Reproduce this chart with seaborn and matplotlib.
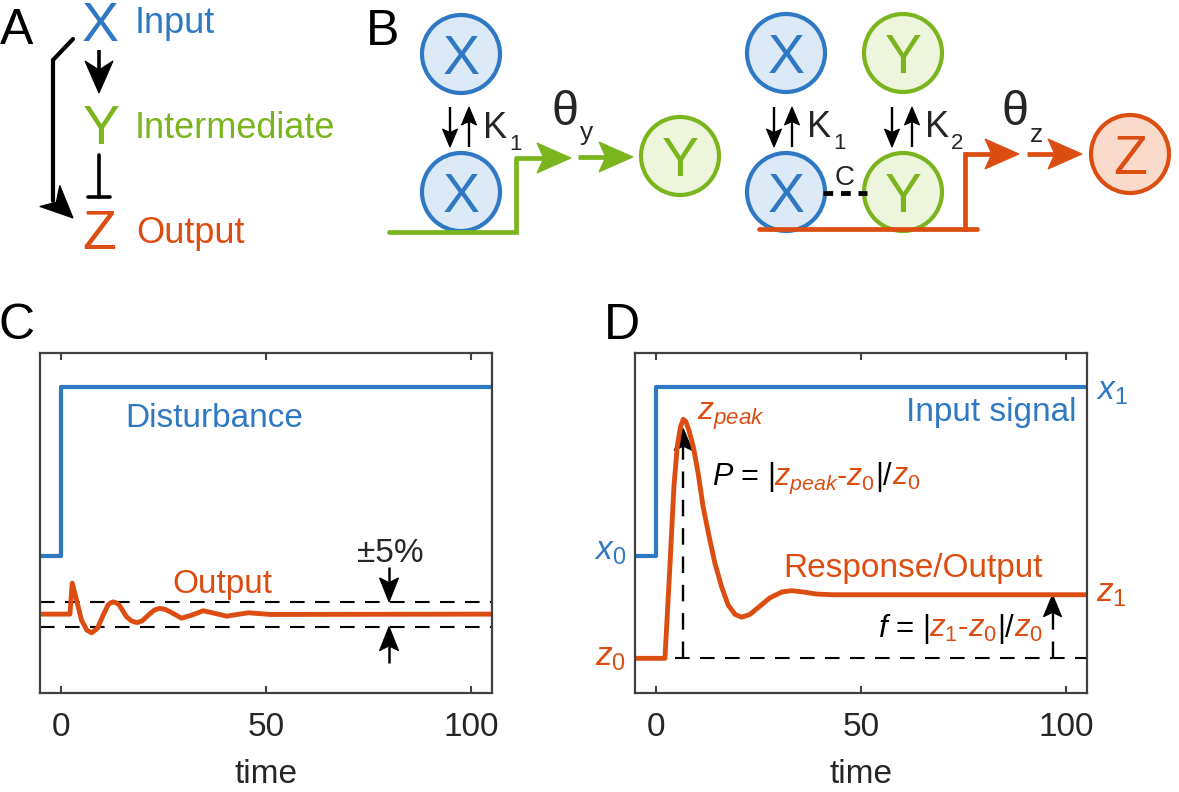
import numpy as np
import matplotlib
matplotlib.use("Agg")
import matplotlib.pyplot as plt
from matplotlib.patches import Circle, Polygon
from matplotlib.transforms import offset_copy
import seaborn as sns

# ---- data (time, normalised level) ----
input_t = [-5.1, 0.0, 0.0, 105.1]
input_x = [0.403, 0.403, 0.90, 0.90]

# panel C: perfectly adapting output
outC_t = [-5.1, 2.2, 2.76, 3.8, 5.0, 6.3, 7.5, 8.9, 10.3, 11.5, 12.1, 12.8, 13.5, 14.2, 16.0,
          17.2, 18.5, 19.8, 21.3, 22.8, 24.1, 25.4, 26.6, 29.4, 31.9, 34.7, 37.6, 40.4, 45.7,
          51.0, 105.1]
outC_z = [0.232, 0.232, 0.323, 0.274, 0.215, 0.185, 0.177, 0.190, 0.229, 0.259, 0.265, 0.268,
          0.265, 0.259, 0.224, 0.212, 0.207, 0.212, 0.229, 0.244, 0.249, 0.246, 0.239, 0.220,
          0.229, 0.242, 0.234, 0.226, 0.236, 0.231, 0.232]
band_hi, band_lo = 0.268, 0.195

# panel D: response with overshoot
outD_t = [-5.1, 2.2, 3.41, 4.39, 5.2, 6.0, 6.67, 7.32, 8.13, 9.1, 10.3, 11.5, 12.8, 14.4, 16.0,
          17.6, 19.3, 20.9, 22.9, 25.4, 27.8, 30.7, 33.1, 35.9, 39.2, 43.2, 105.1]
outD_z = [0.102, 0.102, 0.372, 0.607, 0.725, 0.783, 0.805, 0.798, 0.769, 0.725, 0.646, 0.548,
          0.470, 0.381, 0.313, 0.259, 0.231, 0.223, 0.231, 0.256, 0.280, 0.297, 0.301, 0.297,
          0.291, 0.289, 0.289]
z0, z1, zpeak = 0.102, 0.289, 0.805
t_peak, t_f = 6.67, 96.7
time_ticks = [0, 50, 100]

BLUE, GREEN, ORANGE = '#2f78c4', '#7ab51d', '#dc4d12'
FILL_B, FILL_G, FILL_O = '#dce9f6', '#edf5dc', '#fadacb'
AXC = '#404040'

sns.set_style("white")
plt.rcParams['font.family'] = ['Liberation Sans', 'DejaVu Sans']
plt.rcParams['mathtext.fontset'] = 'custom'
plt.rcParams['mathtext.rm'] = 'Liberation Sans'
plt.rcParams['mathtext.it'] = 'Liberation Sans:italic'

W, H = 1179, 792
fig = plt.figure(figsize=(W / 100, H / 100), dpi=100)


def box(l, t, r, b):
    return [l / W, 1 - b / H, (r - l) / W, (b - t) / H]


# overlay in pixel coordinates for the diagrams
ov = fig.add_axes([0, 0, 1, 1])
ov.set_xlim(0, W)
ov.set_ylim(H, 0)
ov.axis('off')


def head(ax, tail, tip, L, w, k=0.78, color='k'):
    """filled, notched arrow head (sizes in pixels) in the axes' data coords"""
    tr = ax.transData
    p0 = tr.transform(tail)
    p1 = tr.transform(tip)
    d = (p1 - p0) / np.hypot(*(p1 - p0))
    n = np.array([-d[1], d[0]])
    pts = [p1, p1 - L * d + w * n, p1 - k * L * d, p1 - L * d - w * n]
    ax.add_patch(Polygon(tr.inverted().transform(pts), closed=True, facecolor=color,
                         edgecolor=color, lw=0.8, clip_on=False))
    return tr.inverted().transform(p1 - k * L * d)


def arrow(ax, tail, tip, color='k', lw=1.7, L=18, w=7.5, k=0.8, ls='-'):
    back = head(ax, tail, tip, L, w, k, color)
    ax.plot([tail[0], back[0]], [tail[1], back[1]], color=color, lw=lw, ls=ls,
            solid_capstyle='butt')


def letter(x, y, s, fs, color, ha='center'):
    # y is the vertical centre of capital letters
    ov.text(x, y + fs / 2, s, fontsize=fs, color=color, ha=ha, va='baseline')


def node(cx, cy, s, edge, fill):
    ov.add_patch(Circle((cx, cy), 39, facecolor=fill, edgecolor=edge, lw=3))
    letter(cx, cy, s, 40, edge)


def updown(xd, xu, top=107, bot=147):
    arrow(ov, (xd, top), (xd, bot))
    arrow(ov, (xu, bot), (xu, top))


# panel letters
for px, py, s in [(17, 26, 'A'), (383, 27, 'B'), (17, 321, 'C'), (622, 321, 'D')]:
    letter(px, py, s, 36, 'k')

# ---- panel A ----
letter(100, 21, 'X', 40, BLUE)
letter(101, 124, 'Y', 40, GREEN)
letter(99, 229, 'Z', 40, ORANGE)
ov.text(135, 33, 'Input', fontsize=26, color=BLUE, va='baseline')
ov.text(135, 138, 'Intermediate', fontsize=26, color=GREEN, va='baseline')
ov.text(136, 243, 'Output', fontsize=26, color=ORANGE, va='baseline')
arrow(ov, (99, 50), (99, 93), lw=2.6, L=32, w=14, k=0.72)
ov.plot([99, 99], [155, 197], color='k', lw=2.6)
ov.plot([88, 110], [197, 197], color='k', lw=2.6)
ov.plot([73, 53, 53], [39, 60, 201], color='k', lw=3, solid_joinstyle='miter')
head(ov, (53, 199), (73, 218), 32, 14.5, k=0.72)

# ---- panel B, left ----
node(461, 54, 'X', BLUE, FILL_B)
node(461, 192, 'X', BLUE, FILL_B)
updown(450, 469)
ov.text(483, 138, 'K', fontsize=26, va='baseline')
ov.text(509, 150, '1', fontsize=16, va='baseline')
ov.plot([389, 516, 516], [232, 232, 158], color=GREEN, lw=3.4, solid_joinstyle='miter')
arrow(ov, (516, 158), (571, 158), color=GREEN, lw=3.4, L=34, w=15)
ov.text(552, 125, 'θ', fontsize=35, va='baseline')
ov.text(580, 140, 'y', fontsize=19, va='baseline')
arrow(ov, (578, 157), (633, 157), color=GREEN, lw=3.4, L=34, w=15)
node(680, 156, 'Y', GREEN, FILL_G)

# ---- panel B, right ----
node(786, 53, 'X', BLUE, FILL_B)
node(903, 53, 'Y', GREEN, FILL_G)
ov.plot([759, 977], [229, 229], color=ORANGE, lw=3.4)
ov.plot([965, 965], [229, 154], color=ORANGE, lw=3.4, solid_capstyle='projecting')
node(786, 192, 'X', BLUE, FILL_B)
node(903, 192, 'Y', GREEN, FILL_G)
updown(774, 792)
updown(892, 912)
ov.text(807, 137, 'K', fontsize=26, va='baseline')
ov.text(833, 149, '1', fontsize=16, va='baseline')
ov.text(925, 137, 'K', fontsize=26, va='baseline')
ov.text(951, 149, '2', fontsize=16, va='baseline')
ov.plot([823, 867], [193, 193], color='k', lw=3.5, ls=(0, (2, 1.6)))
ov.text(845, 185, 'C', fontsize=20, ha='center', va='baseline')
arrow(ov, (965, 154), (1019, 154), color=ORANGE, lw=3.4, L=34, w=15)
ov.text(1002, 125, 'θ', fontsize=35, va='baseline')
ov.text(1030, 142, 'z', fontsize=19, va='baseline')
arrow(ov, (1027, 154), (1082, 154), color=ORANGE, lw=3.4, L=34, w=15)
node(1130, 154, 'Z', ORANGE, FILL_O)


# ---- time-course panels ----
def style(ax):
    ax.set_xlim(-5.1, 105.1)
    ax.set_ylim(0, 1)
    ax.set_xticks(time_ticks)
    ax.set_yticks([])
    ax.tick_params(axis='x', direction='in', top=True, bottom=True, length=5, width=1.5,
                   color=AXC, labelsize=24, pad=14)
    for s in ax.spines.values():
        s.set_visible(True)
        s.set_color(AXC)
        s.set_linewidth(1.6)
    ax.set_xlabel('time', fontsize=24, labelpad=11)
    ax.set_ylabel('')


dash = (0, (7, 5))
axC = fig.add_axes(box(40, 353, 492, 693))
axC.set_facecolor('none')
sns.lineplot(x=input_t, y=input_x, ax=axC, color=BLUE, lw=3, estimator=None, sort=False)
axC.axhline(band_hi, color='k', lw=1.5, ls=dash)
axC.axhline(band_lo, color='k', lw=1.5, ls=dash)
sns.lineplot(x=outC_t, y=outC_z, ax=axC, color=ORANGE, lw=3.5, estimator=None, sort=False)
style(axC)
axC.text(15.7, 0.783, 'Disturbance', color=BLUE, fontsize=24, va='baseline')
axC.text(27.1, 0.294, 'Output', color=ORANGE, fontsize=24, va='baseline')
axC.text(72.1, 0.385, '±5%', fontsize=24, va='baseline')
arrow(axC, (80, 0.371), (80, band_hi), lw=1.8, L=24, w=9.5)
arrow(axC, (80, 0.088), (80, band_lo), lw=1.8, L=24, w=9.5)

axD = fig.add_axes(box(635, 353, 1087, 693))
axD.set_facecolor('none')
sns.lineplot(x=input_t, y=input_x, ax=axD, color=BLUE, lw=3, estimator=None, sort=False)
axD.plot([4.6, 105.1], [z0, z0], color='k', lw=1.5, ls=dash)
sns.lineplot(x=outD_t, y=outD_z, ax=axD, color=ORANGE, lw=3.5, estimator=None, sort=False)
style(axD)
arrow(axD, (t_peak, z0), (t_peak, 0.778), lw=1.7, L=22, w=9, ls=dash)
arrow(axD, (t_f, z0), (t_f, z1), lw=1.7, L=22, w=9, ls=dash)

axD.text(61.0, 0.80, 'Input signal', color=BLUE, fontsize=24, va='baseline')
axD.text(31.0, 0.342, 'Response/Output', color=ORANGE, fontsize=24, va='baseline')
axD.text(10.1, 0.803, r'$z_{peak}$', color=ORANGE, fontsize=23, va='baseline')
axD.text(-7.2, 0.391, r'$x_\mathit{0}$', color=BLUE, fontsize=24, ha='right', va='baseline', clip_on=False)
axD.text(-7.2, 0.082, r'$z_\mathit{0}$', color=ORANGE, fontsize=24, ha='right', va='baseline', clip_on=False)
axD.text(107.4, 0.862, r'$x_\mathit{1}$', color=BLUE, fontsize=24, va='baseline', clip_on=False)
axD.text(107.4, 0.269, r'$z_\mathit{1}$', color=ORANGE, fontsize=24, va='baseline', clip_on=False)


def rich(ax, x, y, pieces, fs=23):
    r = fig.canvas.get_renderer()
    dx = 0
    for s, col in pieces:
        t = ax.text(x, y, s, color=col, fontsize=fs, va='baseline', ha='left',
                    transform=offset_copy(ax.transData, fig=fig, x=dx, y=0, units='dots'))
        dx += t.get_window_extent(r).width


rich(axD, 13.7, 0.612, [(r'$P$ = |', 'k'), (r'$z_{peak}$-$z_\mathit{0}$', ORANGE),
                        ('|/', 'k'), (r'$z_\mathit{0}$', ORANGE)], fs=22)
rich(axD, 54.1, 0.166, [(r'$f$ = |', 'k'), (r'$z_\mathit{1}$-$z_\mathit{0}$', ORANGE),
                        ('|/', 'k'), (r'$z_\mathit{0}$', ORANGE)], fs=22.5)

fig.savefig('out.png', dpi=100)
